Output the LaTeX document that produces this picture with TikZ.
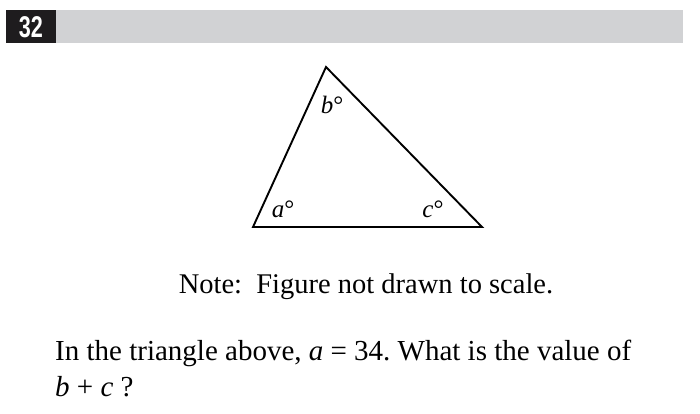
\documentclass[tikz,border=0pt]{standalone}
\usepackage{fontspec}
\setmainfont{Liberation Serif}
\newfontfamily\numfont{Liberation Sans}
\usetikzlibrary{positioning}
\definecolor{bargray}{RGB}{209,210,212}
\definecolor{boxblack}{RGB}{30,28,30}
\frenchspacing
\begin{document}
\begin{tikzpicture}[x=1pt, y=-1pt,
    angolo/.style={anchor=base, font=\fontsize{25}{28}\selectfont},
    testo/.style={anchor=base west, inner sep=0pt, font=\fontsize{29}{35}\selectfont}]
    \useasboundingbox (0,0) rectangle (700,414);
    % Intestazione
    \fill[bargray] (56,10) rectangle (683,43);
    \fill[boxblack] (6,10) rectangle (56,43);
    \node[text=white, xscale=0.72, font=\numfont\bfseries\fontsize{30}{30}\selectfont] (numero) at (31,27) {32};
    
    % Triangolo
    \coordinate (A) at (253,227);
    \coordinate (B) at (326,67);
    \coordinate (C) at (482,227);
    \draw[line width=1.9pt, line join=miter] (A) -- (B) -- (C) -- cycle;
    \node[angolo] (ang-a) at (283,217) {\textit{a}°};
    \node[angolo] (ang-b) at (332,114) {\textit{b}°};
    \node[angolo] (ang-c) at (433,217) {\textit{c}°};
    
    % Testo
    \node[anchor=base, inner sep=0pt, font=\fontsize{28.5}{28}\selectfont] (nota) at (366,293) {Note:\ \ Figure not drawn to scale.};
    \node[testo] (domanda1) at (55,360) {In the triangle above, \textit{a} = 34. What is the value of};
    \node[testo] (domanda2) at (55,396) {\textit{b} + \textit{c} ?};
\end{tikzpicture}
\end{document}
